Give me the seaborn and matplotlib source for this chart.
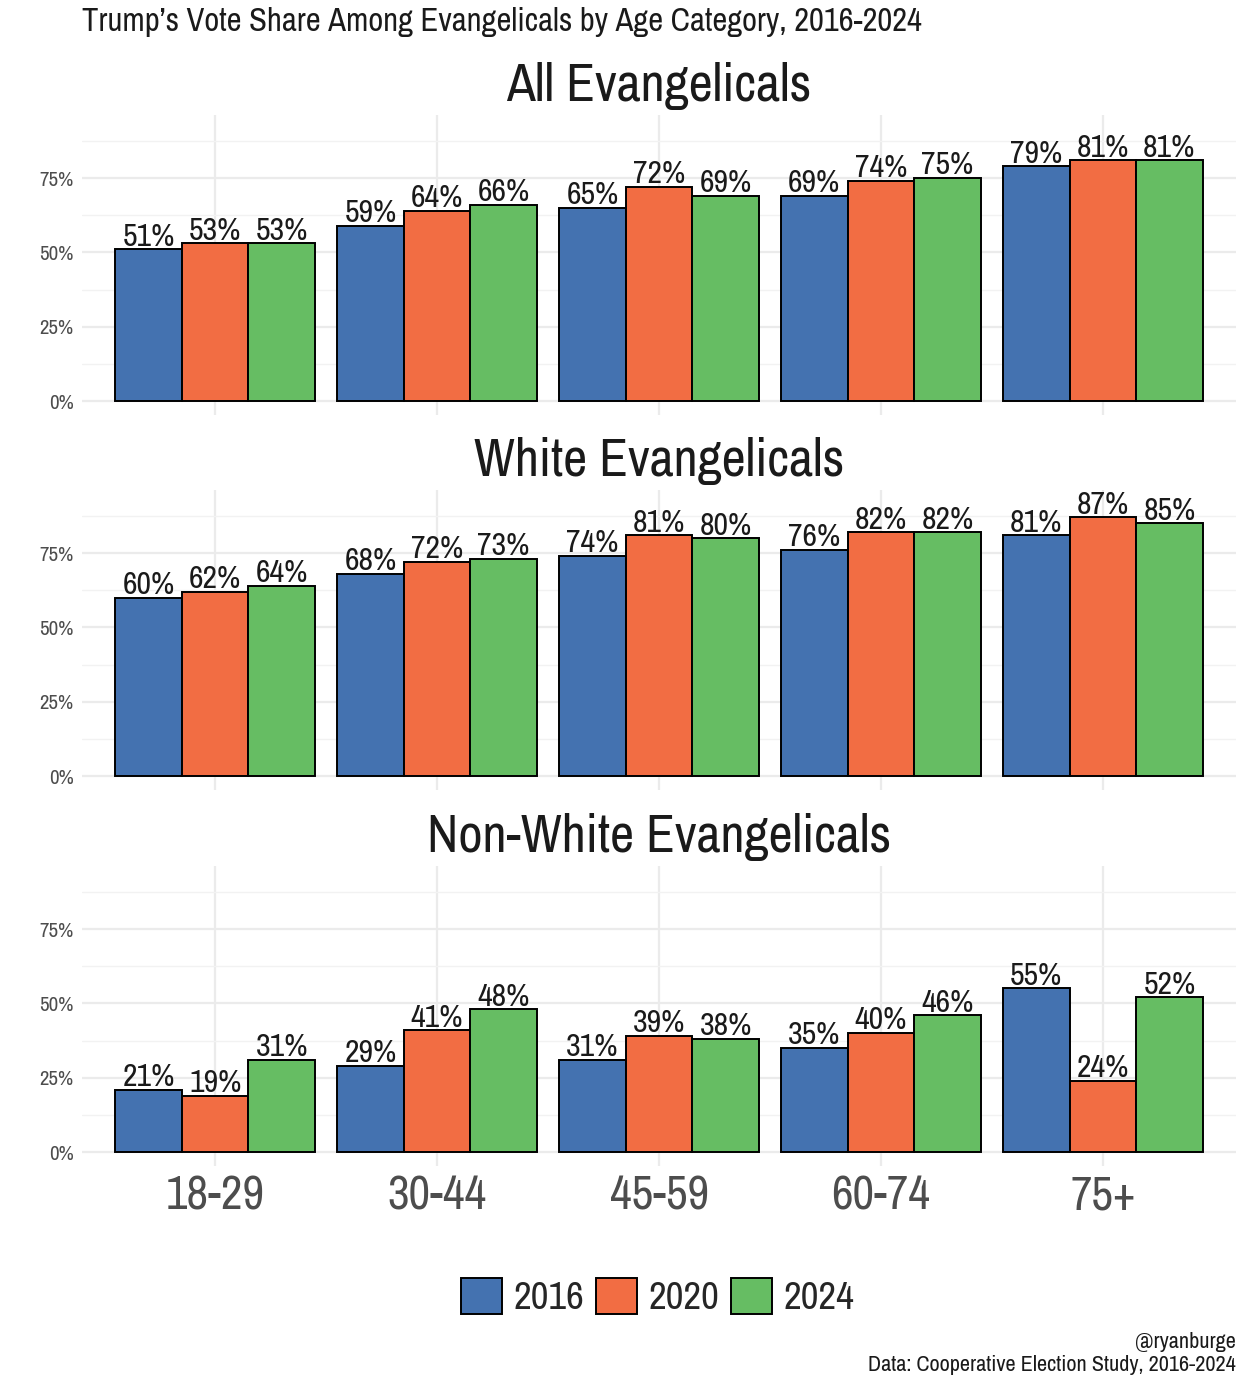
import pandas as pd
import matplotlib
matplotlib.use("Agg")
import matplotlib.pyplot as plt
import seaborn as sns
from matplotlib import font_manager
from matplotlib.patches import Patch

# Data
AGES = ["18-29", "30-44", "45-59", "60-74", "75+"]
YEARS = ["2016", "2020", "2024"]
PANELS = ["All Evangelicals", "White Evangelicals", "Non-White Evangelicals"]

all_2016 = [51, 59, 65, 69, 79]
all_2020 = [53, 64, 72, 74, 81]
all_2024 = [53, 66, 69, 75, 81]

white_2016 = [60, 68, 74, 76, 81]
white_2020 = [62, 72, 81, 82, 87]
white_2024 = [64, 73, 80, 82, 85]

nonwhite_2016 = [21, 29, 31, 35, 55]
nonwhite_2020 = [19, 41, 39, 40, 24]
nonwhite_2024 = [31, 48, 38, 46, 52]

COLORS = ["#4472B0", "#F26D43", "#66BD63"]

sns.set_theme(style="white")

# look for a narrow face, the original uses a condensed font
names = sorted({f.name for f in font_manager.fontManager.ttflist})
narrow = [n for n in names if "Narrow" in n or "Condensed" in n]
condensed_dejavu = any(f.name == "DejaVu Sans" and f.stretch == "condensed"
                       for f in font_manager.fontManager.ttflist)
if narrow:
    plt.rcParams["font.family"] = [narrow[0], "DejaVu Sans"]
else:
    plt.rcParams["font.family"] = ["DejaVu Sans"]
    if condensed_dejavu:
        plt.rcParams["font.stretch"] = "condensed"

series = {
    "All Evangelicals": [all_2016, all_2020, all_2024],
    "White Evangelicals": [white_2016, white_2020, white_2024],
    "Non-White Evangelicals": [nonwhite_2016, nonwhite_2020, nonwhite_2024],
}

rows = []
for panel in PANELS:
    for year, vals in zip(YEARS, series[panel]):
        for age, v in zip(AGES, vals):
            rows.append({"panel": panel, "year": year, "age": age, "pct": v / 100})
df = pd.DataFrame(rows)

fig = plt.figure(figsize=(12.44, 13.84), dpi=100)
W, H = 1244, 1384
left = 82 / W
width = (1236 - 82) / W
panel_h = 300 / H
bottoms_px = [415, 790, 1166]

for i, panel in enumerate(PANELS):
    ax = fig.add_axes([left, 1 - bottoms_px[i] / H, width, panel_h])
    sub = df[df["panel"] == panel]
    sns.barplot(data=sub, x="age", y="pct", hue="year", order=AGES, hue_order=YEARS,
                palette=COLORS, saturation=1, width=0.9, edgecolor="black", linewidth=1.4,
                errorbar=None, legend=False, ax=ax, zorder=3)
    for cont in ax.containers:
        labels = [f"{int(round(b.get_height() * 100))}%" for b in cont]
        ax.bar_label(cont, labels=labels, padding=-1, fontsize=23, color="#1a1a1a",
                     fontweight="light")

    ax.set_xlim(-0.6, 4.6)
    ax.set_ylim(-0.047, 0.962)
    ax.set_yticks([0, 0.25, 0.5, 0.75])
    ax.set_yticklabels(["0%", "25%", "50%", "75%"], fontsize=15, color="#4d4d4d")
    ax.set_yticks([0.125, 0.375, 0.625, 0.875], minor=True)
    ax.grid(axis="y", which="major", color="#EBEBEB", linewidth=1.6, zorder=0)
    ax.grid(axis="y", which="minor", color="#F2F2F2", linewidth=1.0, zorder=0)
    ax.grid(axis="x", which="major", color="#EBEBEB", linewidth=1.6, zorder=0)
    ax.set_axisbelow(True)
    for s in ax.spines.values():
        s.set_visible(False)
    ax.tick_params(axis="both", length=0, pad=6)
    ax.set_xlabel("")
    ax.set_ylabel("")
    ax.set_title(panel, fontsize=38, color="#1a1a1a", pad=10)
    if i < 2:
        ax.set_xticklabels([])
    else:
        ax.tick_params(axis="x", labelsize=34, labelcolor="#4d4d4d", pad=6)

fig.text(82 / W, 1 - 22 / H, "Trump\u2019s Vote Share Among Evangelicals by Age Category, 2016-2024",
         fontsize=23.5, ha="left", va="center", color="#1a1a1a")

handles = [Patch(facecolor=c, edgecolor="black", linewidth=1.4) for c in COLORS]
fig.legend(handles, YEARS, loc="center", bbox_to_anchor=(0.529, 1 - 1297 / H), ncol=3,
           frameon=False, fontsize=28, handlelength=1.05, handleheight=1.05,
           handletextpad=0.3, columnspacing=0.3)

fig.text(1236 / W, 1 - 1342 / H, "@ryanburge", fontsize=16, ha="right", va="center", color="#1a1a1a")
fig.text(1236 / W, 1 - 1365 / H, "Data: Cooperative Election Study, 2016-2024", fontsize=16,
         ha="right", va="center", color="#1a1a1a")

fig.savefig("out.png", dpi=100, facecolor="white")
